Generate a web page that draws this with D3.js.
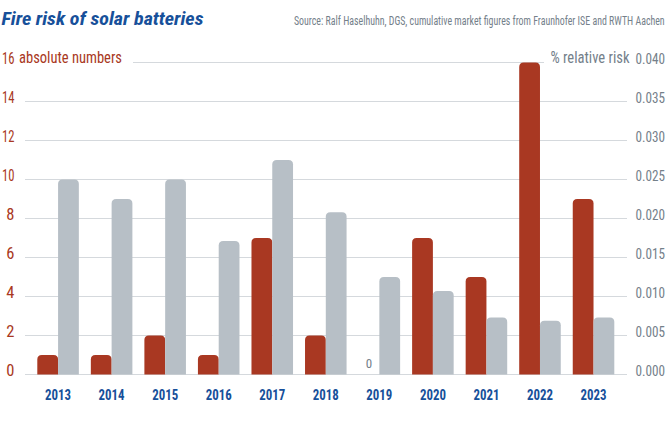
<!DOCTYPE html>
<html>
<head>
<meta charset="utf-8">
<script src="https://cdn.jsdelivr.net/npm/d3@7"></script>
<style>
  body{margin:0;background:#fff;}
  svg{display:block;}
  text{font-family:"Liberation Sans Narrow","Roboto Condensed","DejaVu Sans Condensed","Liberation Sans",sans-serif;}
</style>
</head>
<body>
<svg id="chart" width="669" height="425"></svg>
<script>
var years = ['2013','2014','2015','2016','2017','2018','2019','2020','2021','2022','2023'];
var absoluteFires = [1,1,2,1,7,2,0,7,5,16,9];
var relativeRisk = [0.025,0.0225,0.025,0.0171,0.0275,0.0208,0.0125,0.0107,0.0073,0.0069,0.0073];
var leftTicks = [0,2,4,6,8,10,12,14,16];
var rightTicks = [0,0.005,0.01,0.015,0.02,0.025,0.03,0.035,0.04];

var W = 669, H = 425;
var red = '#a93822', grey = '#b7bfc6', blue = '#17509a', axisGrey = '#74808a', gridColor = '#d5d9dd';

var svg = d3.select('#chart');

//scales
var scaleX = d3.scaleBand()
    .domain(years)
    .range([31.3,620.3])
    .paddingInner(0.224)
    .paddingOuter(0.112);

var scaleSub = d3.scaleBand()
    .domain(['abs','rel'])
    .range([0,scaleX.bandwidth()]);

var scaleY = d3.scaleLinear()
    .domain([0,16])
    .range([374.5,62.5]);

var scaleR = d3.scaleLinear()
    .domain([0,0.04])
    .range([374.5,62.5]);

//gridlines
svg.append('g').attr('class','grid')
    .selectAll('line')
    .data(leftTicks)
    .enter()
    .append('line')
    .attr('x1',function(d){return d==16 ? 133 : 25})
    .attr('x2',function(d){return d==16 ? 544 : 627})
    .attr('y1',function(d){return scaleY(d)})
    .attr('y2',function(d){return scaleY(d)})
    .style('stroke',gridColor)
    .style('stroke-width',1.2);

//rounded-top bar path
function barPath(x,y,w,h,r){
  if(h<=0) return '';
  r = Math.min(r,h,w/2);
  return 'M'+x+','+(y+h)+
         'V'+(y+r)+
         'Q'+x+','+y+' '+(x+r)+','+y+
         'H'+(x+w-r)+
         'Q'+(x+w)+','+y+' '+(x+w)+','+(y+r)+
         'V'+(y+h)+'Z';
}

var groups = svg.append('g').attr('class','bars')
    .selectAll('g')
    .data(years)
    .enter()
    .append('g')
    .attr('transform',function(d){return 'translate(' + scaleX(d) + ',0)'});

groups.append('path')
    .attr('d',function(d,i){
        var top = scaleY(absoluteFires[i]);
        return barPath(scaleSub('abs'),top,scaleSub.bandwidth(),scaleY(0)-top,4.5);
    })
    .style('fill',red);

groups.append('path')
    .attr('d',function(d,i){
        var top = scaleR(relativeRisk[i]);
        return barPath(scaleSub('rel'),top,scaleSub.bandwidth(),scaleR(0)-top,4.5);
    })
    .style('fill',grey);

//zero label where there is no red bar
groups.filter(function(d,i){return absoluteFires[i]===0})
    .append('text')
    .attr('x',scaleSub('abs')+scaleSub.bandwidth()/2)
    .attr('y',scaleY(0)-7)
    .attr('text-anchor','middle')
    .style('font-size','13px')
    .style('fill',axisGrey)
    .text('0');

//left axis
var axisL = d3.axisLeft(scaleY)
    .tickValues(leftTicks)
    .tickSize(0)
    .tickPadding(0);

var gL = svg.append('g').attr('class','axis axis-left')
    .attr('transform','translate(14.5,0)')
    .call(axisL);
gL.select('.domain').remove();
gL.selectAll('text')
    .attr('dy','0.05em')
    .attr('textLength',function(d){return d>=10 ? 12.5 : null})
    .attr('lengthAdjust','spacingAndGlyphs')
    .style('font-size','16.5px')
    .style('fill',red);

svg.append('text')
    .attr('x',19)
    .attr('y',scaleY(16)+0.5)
    .attr('textLength',103)
    .attr('lengthAdjust','spacingAndGlyphs')
    .style('font-size','16.5px')
    .style('fill',red)
    .text('absolute numbers');

//right axis
var axisR = d3.axisRight(scaleR)
    .tickValues(rightTicks)
    .tickFormat(d3.format('.3f'))
    .tickSize(0)
    .tickPadding(0);

var gR = svg.append('g').attr('class','axis axis-right')
    .attr('transform','translate(635.5,0)')
    .call(axisR);
gR.select('.domain').remove();
gR.selectAll('text')
    .attr('dy','0.05em')
    .attr('textLength',29.5)
    .attr('lengthAdjust','spacingAndGlyphs')
    .style('font-size','15.5px')
    .style('fill',axisGrey);

svg.append('text')
    .attr('x',550.5)
    .attr('y',scaleR(0.04)+0.5)
    .attr('textLength',79)
    .attr('lengthAdjust','spacingAndGlyphs')
    .style('font-size','16px')
    .style('fill',axisGrey)
    .text('% relative risk');

//x axis
var axisX = d3.axisBottom(scaleX)
    .tickSize(0)
    .tickPadding(0);

var gX = svg.append('g').attr('class','axis axis-x')
    .attr('transform','translate(0,400)')
    .call(axisX);
gX.select('.domain').remove();
gX.selectAll('text')
    .attr('dy','0')
    .attr('textLength',26)
    .attr('lengthAdjust','spacingAndGlyphs')
    .style('font-size','15px')
    .style('font-weight','bold')
    .style('fill',blue);

//title + source
svg.append('text')
    .attr('x',1.5)
    .attr('y',25)
    .attr('textLength',202)
    .attr('lengthAdjust','spacingAndGlyphs')
    .style('font-size','19px')
    .style('font-weight','bold')
    .style('font-style','italic')
    .style('fill',blue)
    .text('Fire risk of solar batteries');

//source line: squeeze horizontally to fit the 371px the reference uses
var source = svg.append('text')
    .attr('x',0)
    .attr('y',0)
    .style('font-size','12px')
    .style('fill',axisGrey)
    .text('Source: Ralf Haselhuhn, DGS, cumulative market figures from Fraunhofer ISE and RWTH Aachen');
var sx = 371 / source.node().getComputedTextLength();
source.attr('transform','translate(294,25) scale(' + sx + ',1)');
</script>
</body>
</html>
